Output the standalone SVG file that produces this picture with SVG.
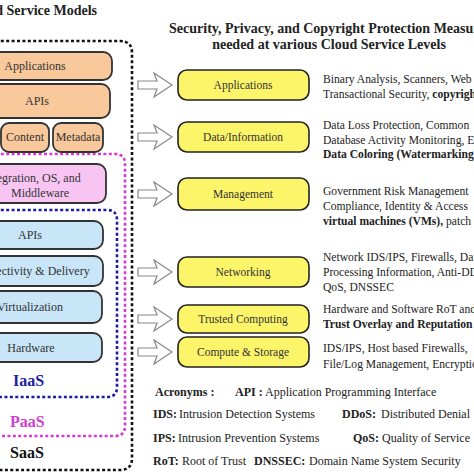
<svg xmlns="http://www.w3.org/2000/svg" width="474" height="474" viewBox="0 0 474 474">
<defs>
<style>
text{font-family:"Liberation Serif","Times New Roman",serif;fill:#222}
.b{font-weight:bold}
.lbl{font-size:12px;fill:#333}
.yl{font-size:11.5px;fill:#333;text-anchor:middle}
.rt{font-size:11.6px}
.ac{font-size:12px}
.or{fill:#F9C89B;stroke:#333;stroke-width:1.8}
.pk{fill:#F8C5F3;stroke:#333;stroke-width:1.8}
.lb{fill:#C8E6F8;stroke:#333;stroke-width:1.8}
.ye{fill:#FCF56A;stroke:#222;stroke-width:1.6}
.dash{fill:none;stroke-width:2.6;stroke-dasharray:3 2.4}
.arr{fill:#fff;stroke:#888;stroke-width:1.2}
</style>
<path id="arrow" class="arr" d="M0,-4 L19,-4 L16,-12 L34,0 L16,12 L19,4 L0,4 Z"/>
</defs>

<text x="97" y="15" class="b" font-size="14" text-anchor="end">Cloud Service Models</text>

<text x="330" y="33" class="b" font-size="14" text-anchor="middle">Security, Privacy, and Copyright Protection Measures</text>
<text x="329" y="49" class="b" font-size="14" text-anchor="middle">needed at various Cloud Service Levels</text>

<g id="containers">
<path class="dash" stroke="#111" d="M-10,41 L120,41 Q132,41 132,53 L132,458 Q132,470 120,470 L-10,470"/>
<path class="dash" stroke="#D23CD2" d="M-10,154 L115,154 Q125,154 125,164 L125,426 Q125,436 115,436 L-10,436"/>
<path class="dash" stroke="#1C1CA0" d="M-10,210 L107,210 Q117,210 117,220 L117,387 Q117,397 107,397 L-10,397"/>
<text x="13" y="386" class="b" font-size="16" style="fill:#1C1CA0">IaaS</text>
<text x="10" y="427" class="b" font-size="16" style="fill:#D040D0">PaaS</text>
<text x="10" y="458" class="b" font-size="16" style="fill:#111">SaaS</text>
</g>

<g id="saas-applications"><rect class="or" x="-20" y="52" width="132" height="28" rx="9"/><text class="lbl" x="35" y="70" text-anchor="middle">Applications</text></g>
<g id="saas-apis"><rect class="or" x="-20" y="84" width="130" height="34" rx="9"/><text class="lbl" x="37" y="105" text-anchor="middle">APIs</text></g>
<g id="saas-content"><rect class="or" x="1" y="123" width="48" height="29" rx="8"/><text class="lbl" x="25" y="141" text-anchor="middle">Content</text></g>
<g id="saas-metadata"><rect class="or" x="53" y="123" width="50" height="29" rx="8"/><text class="lbl" x="78" y="141" text-anchor="middle">Metadata</text></g>

<g id="paas-integration"><rect class="pk" x="-20" y="164" width="126" height="39" rx="9"/><text class="lbl" x="32" y="182" text-anchor="middle">Integration, OS, and</text><text class="lbl" x="40" y="197" text-anchor="middle">Middleware</text></g>

<g id="iaas-apis"><rect class="lb" x="-20" y="221" width="123" height="28" rx="9"/><text class="lbl" x="30" y="239" text-anchor="middle">APIs</text></g>
<g id="iaas-connectivity"><rect class="lb" x="-20" y="256" width="123" height="30" rx="9"/><text class="lbl" x="30" y="275" text-anchor="middle">Connectivity &amp; Delivery</text></g>
<g id="iaas-virtualization"><rect class="lb" x="-20" y="291" width="122" height="32" rx="9"/><text class="lbl" x="30" y="311" text-anchor="middle">Virtualization</text></g>
<g id="iaas-hardware"><rect class="lb" x="-20" y="333" width="122" height="29" rx="9"/><text class="lbl" x="31" y="352" text-anchor="middle">Hardware</text></g>

<g id="connectors">
<use href="#arrow" x="138" y="85"/>
<use href="#arrow" x="138" y="137"/>
<use href="#arrow" x="138" y="194"/>
<use href="#arrow" x="138" y="272"/>
<use href="#arrow" x="138" y="319"/>
<use href="#arrow" x="138" y="352"/>
</g>

<g id="level-applications"><rect class="ye" x="178" y="70" width="131" height="30" rx="9"/><text class="yl" x="243" y="89">Applications</text></g>
<g id="level-data"><rect class="ye" x="178" y="122" width="131" height="30" rx="9"/><text class="yl" x="243" y="141">Data/Information</text></g>
<g id="level-management"><rect class="ye" x="178" y="178" width="131" height="32" rx="9"/><text class="yl" x="243" y="198">Management</text></g>
<g id="level-networking"><rect class="ye" x="178" y="257" width="131" height="30" rx="9"/><text class="yl" x="243" y="276">Networking</text></g>
<g id="level-trusted"><rect class="ye" x="178" y="305" width="131" height="28" rx="9"/><text class="yl" x="243" y="323">Trusted Computing</text></g>
<g id="level-compute"><rect class="ye" x="178" y="337" width="131" height="30" rx="9"/><text class="yl" x="243" y="356">Compute &amp; Storage</text></g>

<g id="measures">
<text class="rt" x="323" y="83">Binary Analysis, Scanners, Web</text>
<text class="rt" x="323" y="98">Transactional Security, <tspan class="b">copyright</tspan></text>
<text class="rt" x="323" y="129">Data Loss Protection, Common</text>
<text class="rt" x="323" y="144">Database Activity Monitoring, Encryption</text>
<text class="rt b" x="323" y="158">Data Coloring (Watermarking)</text>
<text class="rt" x="323" y="195">Government Risk Management</text>
<text class="rt" x="323" y="210">Compliance, Identity &amp; Access</text>
<text class="rt" x="323" y="225"><tspan class="b">virtual machines (VMs),</tspan> patch</text>
<text class="rt" x="323" y="261">Network IDS/IPS, Firewalls, Data</text>
<text class="rt" x="323" y="276">Processing Information, Anti-DDoS,</text>
<text class="rt" x="323" y="291">QoS, DNSSEC</text>
<text class="rt" x="323" y="313">Hardware and Software RoT and</text>
<text class="rt b" x="323" y="328">Trust Overlay and Reputation</text>
<text class="rt" x="323" y="352">IDS/IPS, Host based Firewalls,</text>
<text class="rt" x="323" y="368">File/Log Management, Encryption</text>
</g>

<g id="acronyms">
<text class="ac b" x="155" y="396">Acronyms :</text>
<text class="ac b" x="235" y="396">API :</text>
<text class="ac" x="265" y="396">Application  Programming Interface</text>
<text class="ac b" x="153" y="418">IDS:</text>
<text class="ac" x="179" y="418">Intrusion Detection Systems</text>
<text class="ac b" x="342" y="418">DDoS:</text>
<text class="ac" x="381" y="418">Distributed Denial</text>
<text class="ac b" x="153" y="442">IPS:</text>
<text class="ac" x="178" y="442">Intrusion Prevention Systems</text>
<text class="ac b" x="353" y="442">QoS:</text>
<text class="ac" x="382" y="442">Quality of Service</text>
<text class="ac b" x="153" y="465" font-size="11.5">RoT:</text>
<text class="ac" x="182" y="465" font-size="11.5">Root of Trust</text>
<text class="ac b" x="254" y="465">DNSSEC:</text>
<text class="ac" x="309" y="465">Domain Name System Security</text>
</g>
</svg>
